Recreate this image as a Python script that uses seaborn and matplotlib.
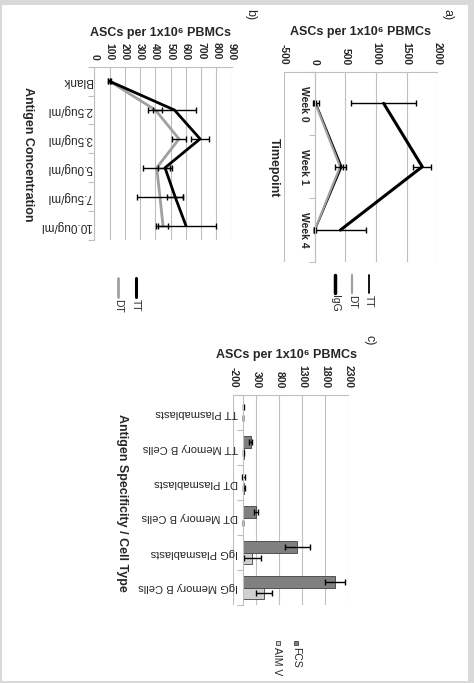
import numpy as np
import pandas as pd
import matplotlib.pyplot as plt
import seaborn as sns
from matplotlib.lines import Line2D
from matplotlib.patches import Rectangle

# panel a: timepoints
weeks = ["Week 0", "Week 1", "Week 4"]
a_igg = [1125, 1755, 420]
a_igg_err = [530, 150, 425]
a_tt = [20, 440, 5]
a_tt_err = [45, 20, 10]
a_dt = [10, 415, 0]
a_dt_err = [20, 90, 10]

# panel b: antigen concentration
concs = ["Blank", "2.5ug/ml", "3.5ug/ml", "5.0ug/ml", "7.5ug/ml", "10.0ug/ml"]
b_tt = [98, 525, 693, 463, 529, 600]
b_tt_err = [8, 140, 60, 45, 50, 195]
b_dt = [100, 400, 555, 409, 430, 450]
b_dt_err = [8, 45, 45, 90, 150, 35]

# panel c: cell types, FCS vs AIM V
cells = ["TT Plasmablasts", "TT Memory B Cells", "DT Plasmablasts",
         "DT Memory B Cells", "IgG Plasmablasts", "IgG Memory B Cells"]
c_fcs = [15, 175, 20, 295, 1195, 2010]
c_fcs_err = [10, 35, 25, 45, 270, 210]
c_aim = [10, 25, 35, 5, 215, 465]
c_aim_err = [10, 15, 15, 5, 180, 170]

sns.set_theme(style="white")
plt.rcParams['font.family'] = ['Liberation Sans', 'DejaVu Sans']
plt.rcParams['axes.unicode_minus'] = False

GRID = "#bfbfbf"
GRAY = "#a0a0a0"
ylab = "ASCs per 1x10⁶ PBMCs"

W, H = 474, 683
fig = plt.figure(figsize=(W / 100, H / 100), dpi=100)
fig.patch.set_facecolor("#d9d9d9")
fig.add_artist(Rectangle((2 / W, 2 / H), 466 / W, 676 / H, transform=fig.transFigure,
                         facecolor="white", edgecolor="none", zorder=-10))


def px(x0, y0, x1, y1):
    return [x0 / W, 1 - y1 / H, (x1 - x0) / W, (y1 - y0) / H]


def style_axes(ax, ticks, lim, ncat, cat_at, rot, lab_pad, bold_cat, cat_size):
    ax.set_xlim(*lim)
    ax.set_xticks(ticks)
    ax.xaxis.tick_top()
    ax.tick_params(axis='x', which='major', length=0, pad=5, labelrotation=-90, labelsize=7.5)
    for t in ax.get_xticklabels():
        t.set_fontweight("bold")
    ax.grid(axis='x', color=GRID, lw=0.8)
    ax.grid(axis='y', visible=False)
    ax.set_axisbelow(True)
    for s in ["right", "bottom"]:
        ax.spines[s].set_visible(False)
    ax.spines["top"].set_color(GRID)
    ax.spines["top"].set_linewidth(0.8)
    ax.spines["left"].set_position(("data", cat_at))
    ax.spines["left"].set_color(GRID)
    ax.spines["left"].set_linewidth(0.8)
    ax.set_ylim(ncat - 0.5, -0.5)
    ax.set_yticks(np.arange(ncat))
    ax.set_yticks(np.arange(ncat + 1) - 0.5, minor=True)
    ax.tick_params(axis='y', which='major', length=0, pad=lab_pad, labelsize=cat_size,
                   labelrotation=rot)
    ax.tick_params(axis='y', which='minor', length=4, width=0.8, color=GRID, direction='out', left=True)
    for t in ax.get_yticklabels():
        t.set_va("center")
        if bold_cat:
            t.set_fontweight("bold")
    ax.set_xlabel("")
    ax.set_ylabel("")


# ---- panel a
ax_a = fig.add_axes(px(284, 71.7, 437.3, 261.7))
pos_a = np.arange(len(weeks))
sns.lineplot(x=a_tt, y=pos_a, orient='y', sort=False, color="black", lw=1.3, ax=ax_a)
sns.lineplot(x=a_dt, y=pos_a, orient='y', sort=False, color=GRAY, lw=1.6, ax=ax_a)
sns.lineplot(x=a_igg, y=pos_a, orient='y', sort=False, color="black", lw=2.2, ax=ax_a)
for v, e in [(a_tt, a_tt_err), (a_dt, a_dt_err), (a_igg, a_igg_err)]:
    ax_a.errorbar(v, pos_a, xerr=e, fmt='none', ecolor="black", elinewidth=1, capsize=2.5, capthick=1)
ax_a.set_yticklabels(weeks)
style_axes(ax_a, np.arange(-500, 2001, 500), (-500, 2000), len(weeks), 0, -90, 4, True, 7.5)

# ---- panel b
ax_b = fig.add_axes(px(94.3, 66.7, 231.7, 240))
pos_b = np.arange(len(concs))
sns.lineplot(x=b_dt, y=pos_b, orient='y', sort=False, color=GRAY, lw=2, ax=ax_b)
sns.lineplot(x=b_tt, y=pos_b, orient='y', sort=False, color="black", lw=2, ax=ax_b)
for v, e in [(b_dt, b_dt_err), (b_tt, b_tt_err)]:
    ax_b.errorbar(v, pos_b, xerr=e, fmt='none', ecolor="black", elinewidth=1, capsize=2.5, capthick=1)
ax_b.set_yticklabels(concs)
style_axes(ax_b, np.arange(0, 901, 100), (0, 900), len(concs), 0, 180, 1.5, False, 8.5)

# ---- panel c
ax_c = fig.add_axes(px(233.3, 395, 348.3, 605))
df_c = pd.DataFrame({
    "cell": cells * 2,
    "medium": ["FCS"] * len(cells) + ["AIM V"] * len(cells),
    "asc": c_fcs + c_aim,
})
sns.barplot(data=df_c, x="asc", y="cell", hue="medium", orient='h', width=0.63,
            palette={"FCS": "#808080", "AIM V": "#d0d0d0"}, edgecolor="#404040",
            linewidth=0.6, errorbar=None, legend=False, ax=ax_c)
for cont, errs in zip(ax_c.containers, [c_fcs_err, c_aim_err]):
    cy = [b.get_y() + b.get_height() / 2 for b in cont]
    cw = [b.get_width() for b in cont]
    ax_c.errorbar(cw, cy, xerr=errs, fmt='none', ecolor="black", elinewidth=1, capsize=2.5, capthick=1)
ax_c.set_yticks(np.arange(len(cells)))
ax_c.set_yticklabels(cells)
style_axes(ax_c, np.arange(-200, 2301, 500), (-200, 2300), len(cells), 0, 180, 3, False, 8)


# ---- texts
def ftext(x, y, s, **kw):
    fig.text(x / W, 1 - y / H, s, **kw)


ftext(447, 15, "a)", rotation=-90, ha="center", va="center", fontsize=9)
ftext(250, 15, "b)", rotation=-90, ha="center", va="center", fontsize=9)
ftext(370, 340, "c)", rotation=-90, ha="center", va="center", fontsize=9)
ftext(361, 32, ylab, ha="center", va="center", fontsize=9, fontweight="bold")
ftext(161, 33, ylab, ha="center", va="center", fontsize=9, fontweight="bold")
ftext(287, 355, ylab, ha="center", va="center", fontsize=9, fontweight="bold")
ftext(274, 168, "Timepoint", rotation=-90, ha="center", va="center", fontsize=9, fontweight="bold")
ftext(28, 154, "Antigen Concentration", rotation=-90, ha="center", va="center",
      fontsize=9, fontweight="bold")
ftext(121.5, 503, "Antigen Specificity / Cell Type", rotation=-90, ha="center", va="center",
      fontsize=9, fontweight="bold")


# ---- legends drawn sideways
def leg_line(x, y0, y1, color, lw, label):
    fig.add_artist(Line2D([x / W, x / W], [1 - y0 / H, 1 - y1 / H], transform=fig.transFigure,
                          color=color, lw=lw))
    ftext(x, y1 + 2, label, rotation=-90, ha="center", va="top", fontsize=7.5)


leg_line(369, 275, 293, "black", 1.3, "TT")
leg_line(351.7, 275, 293, GRAY, 1.6, "DT")
leg_line(335, 275, 293, "black", 2.5, "IgG")
leg_line(135.7, 278, 297, "black", 2.2, "TT")
leg_line(118.3, 278, 297, GRAY, 2, "DT")

for x, col, lab in [(296, "#808080", "FCS"), (277.5, "#d0d0d0", "AIM V")]:
    fig.add_artist(Rectangle(((x - 2) / W, 1 - 645 / H), 4 / W, 4 / H, transform=fig.transFigure,
                             facecolor=col, edgecolor="#404040", lw=0.6))
    ftext(x, 647, lab, rotation=-90, ha="center", va="top", fontsize=7.5)

plt.savefig("out.png", dpi=100, facecolor=fig.get_facecolor())
